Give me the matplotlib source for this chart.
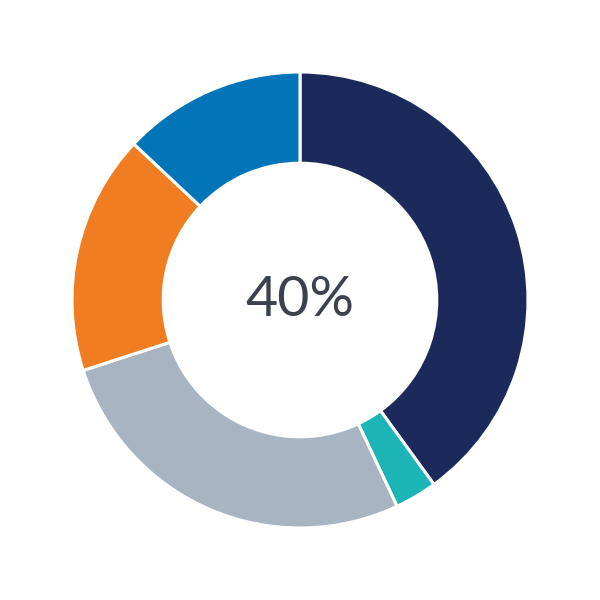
import matplotlib
matplotlib.use("Agg")
import matplotlib.pyplot as plt

labels = ["Navy", "Teal", "Gray", "Orange", "Blue"]
values = [40, 3, 27, 17, 13]
colors = ["#1b2a5a", "#1bb5b5", "#a9b4c3", "#f07d21", "#0275b8"]
center_label = "40%"

fig = plt.figure(figsize=(6, 6), dpi=100)
ax = fig.add_axes([0, 0, 1, 1])
ax.pie(values, colors=colors, startangle=90, counterclock=False,
       radius=1.0,
       wedgeprops=dict(width=0.4, edgecolor="white", linewidth=2.2))
ax.text(0, 0, center_label, ha="center", va="center", fontsize=40,
        color="#3c424d", family="Lato", fontweight="normal")
lim = 300 / 228
ax.set_xlim(-lim, lim)
ax.set_ylim(-lim, lim)
ax.set_aspect("equal")
ax.axis("off")
fig.savefig("out.png", dpi=100, facecolor="white")
